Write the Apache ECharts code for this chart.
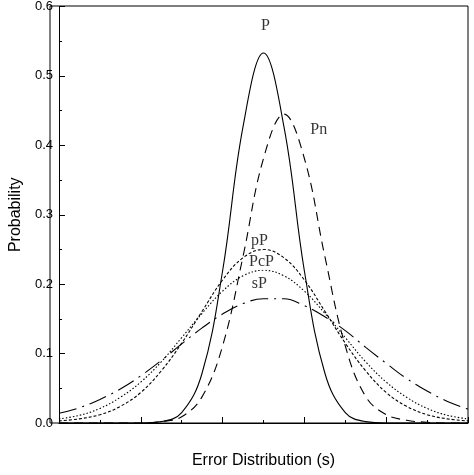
<!DOCTYPE html>
<html><head><meta charset="utf-8">
<script src="https://cdn.jsdelivr.net/npm/echarts@6/dist/echarts.min.js"></script>
<style>html,body{margin:0;padding:0;background:#fff}#c{width:474px;height:475px}</style>
</head><body><div id="c"></div>
<script>
const xs = [-5,-4.5,-4,-3.5,-3,-2.5,-2,-1.5,-1,-0.5,0,0.5,1,1.5,2,2.5,3,3.5,4,4.5,5];
const P   = [0,0,0,0,0,0.002,0.015,0.072,0.219,0.427,0.533,0.427,0.219,0.072,0.015,0.002,0,0,0,0,0];
const Pn  = [0,0,0,0,0,0.002,0.009,0.038,0.111,0.240,0.381,0.445,0.381,0.240,0.111,0.038,0.012,0.004,0.001,0,0];
const pP  = [0.003,0.006,0.012,0.024,0.044,0.075,0.115,0.161,0.206,0.238,0.250,0.238,0.206,0.161,0.115,0.075,0.044,0.024,0.012,0.006,0.003];
const PcP = [0.006,0.011,0.021,0.037,0.059,0.088,0.123,0.158,0.190,0.212,0.220,0.212,0.190,0.158,0.123,0.088,0.059,0.037,0.021,0.011,0.006];
const sP  = [0.014,0.022,0.034,0.049,0.068,0.090,0.114,0.137,0.157,0.172,0.179,0.179,0.169,0.153,0.133,0.109,0.086,0.064,0.046,0.031,0.020];
const labels = [["P",0.05,0.572],["Pn",1.35,0.422],["pP",-0.1,0.262],["PcP",-0.05,0.232],["sP",-0.1,0.2]];
const xTicks = [-4,-2,0,2,4];
const yTicks = [0,0.1,0.2,0.3,0.4,0.5,0.6];

const mk = (d)=>xs.map((x,i)=>[x,d[i]]);
const line = (name,d,type)=>({name,type:'line',data:mk(d),smooth:0.4,symbol:'none',
  lineStyle:{color:'#000',width:1.1,type}});
const chart = echarts.init(document.getElementById('c'));
chart.setOption({
  animation:false,
  grid:{left:50,right:6,top:6,bottom:52},
  xAxis:{type:'value',min:-5,max:5,interval:2,
    axisLine:{onZero:false,lineStyle:{color:'#000'}},
    axisTick:{inside:true,length:6,lineStyle:{color:'#000'}},
    minorTick:{show:true,splitNumber:2,length:3,lineStyle:{color:'#000'}},
    axisLabel:{color:'#000',fontSize:13,fontFamily:'Liberation Sans',margin:8,
      formatter:v=>xTicks.includes(v)?String(v):''},
    splitLine:{show:false},
    name:'Error Distribution (s)',nameLocation:'middle',nameGap:30,
    nameTextStyle:{color:'#000',fontSize:16,fontFamily:'Liberation Sans'}},
  yAxis:{type:'value',min:0,max:0.6,interval:0.1,
    axisLine:{onZero:false,lineStyle:{color:'#000'}},
    axisTick:{inside:true,length:6,lineStyle:{color:'#000'}},
    minorTick:{show:true,splitNumber:2,length:3,lineStyle:{color:'#000'}},
    axisLabel:{color:'#000',fontSize:13,fontFamily:'Liberation Sans',margin:6,
      formatter:v=>{const t=yTicks.find(y=>Math.abs(y-v)<1e-6);return t===undefined?'':t.toFixed(1);}},
    splitLine:{show:false},
    name:'Probability',nameLocation:'middle',nameGap:32,
    nameTextStyle:{color:'#000',fontSize:16,fontFamily:'Liberation Sans'}},
  graphic:[{type:'rect',shape:{x:50,y:6,width:418,height:417},style:{fill:'none',stroke:'#000',lineWidth:1},z:10}],
  series:[
    line('P',P,'solid'),
    line('Pn',Pn,[9,6]),
    line('pP',pP,[3,2]),
    line('PcP',PcP,[1.5,2]),
    line('sP',sP,[18,6,2,6]),
    {type:'scatter',symbolSize:0,z:5,data:labels.map(l=>({value:[l[1],l[2]],name:l[0]})),
     label:{show:true,position:'inside',formatter:p=>p.name,color:'#000',fontSize:16,fontFamily:'Liberation Serif',
       backgroundColor:'#fff',padding:[0,1]}}
  ]
});
</script></body></html>
